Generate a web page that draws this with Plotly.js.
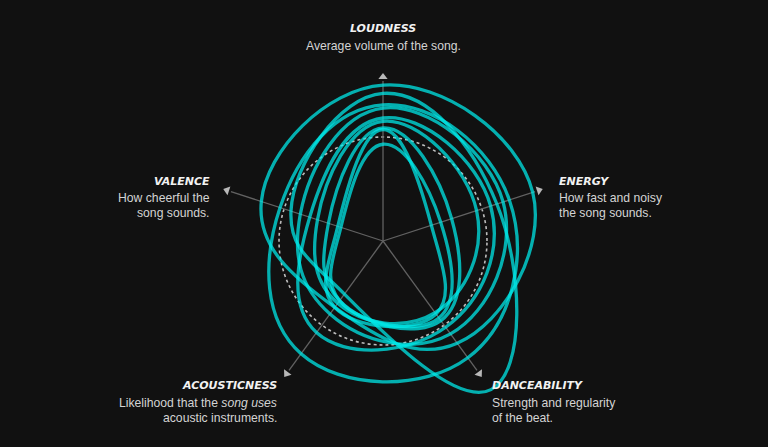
<!DOCTYPE html>
<html>
<head>
<meta charset="utf-8">
<script src="https://cdn.plot.ly/plotly-3.0.1.min.js"></script>
<style>
  html, body { margin: 0; padding: 0; background: #111111; }
  #chart { width: 768px; height: 447px; }
</style>
</head>
<body>
<div id="chart"></div>
<script>
// Five audio features, clockwise from the top.
const features = ['Loudness', 'Energy', 'Danceability', 'Acousticness', 'Valence'];

// One array per song, values in feature order (1 = end of the spoke).
const song1 = [0.95, 0.96, 0.77, 0.50, 0.78];
const song2 = [0.90, 0.73, 1.12, 0.40, 0.59];
const song3 = [0.83, 0.81, 0.88, 0.85, 0.66];
const song4 = [0.81, 0.77, 0.70, 0.55, 0.53];
const song5 = [0.75, 0.69, 0.65, 0.69, 0.47];
const song6 = [0.73, 0.60, 0.54, 0.47, 0.42];
const song7 = [0.69, 0.44, 0.60, 0.45, 0.35];
const song8 = [0.68, 0.31, 0.55, 0.50, 0.29];
const song9 = [0.59, 0.37, 0.58, 0.45, 0.27];
const songs = [song1, song2, song3, song4, song5, song6, song7, song8, song9];

// Average of the whole catalogue, drawn as the dashed ring.
const average = 0.634;

// Axis labels and their descriptions (one entry per printed line).
const labelTitles = ['LOUDNESS', 'ENERGY', 'DANCEABILITY', 'ACOUSTICNESS', 'VALENCE'];
const labelNotes = [
    ['Average volume of the song.'],
    ['How fast and noisy', 'the song sounds.'],
    ['Strength and regularity', 'of the beat.'],
    ['Likelihood that the <i>song uses</i>', 'acoustic instruments.'],
    ['How cheerful the', 'song sounds.'],
];

const W = 768, H = 447;
const px = (x) => x / W;
const py = (y) => 1 - y / H;

const traces = [];

// spokes, drawn as lines from the centre to the end of each axis
const spokeR = [], spokeT = [];
features.forEach((f) => { spokeR.push(0, 0.975, null); spokeT.push(f, f, null); });
traces.push({
    type: 'scatterpolar', mode: 'lines', r: spokeR, theta: spokeT,
    line: { color: '#626262', width: 1.3 }, connectgaps: false,
    hoverinfo: 'skip', showlegend: false,
});

// arrow heads at the spoke ends
traces.push({
    type: 'scatterpolar', mode: 'markers', r: features.map(() => 1.0), theta: features,
    marker: { symbol: 'triangle-up', size: 8, color: '#b8b8b8', angle: [0, 72, 144, 216, 288] },
    hoverinfo: 'skip', showlegend: false,
});

// one closed spline per song: repeat the first point so the curve closes smoothly
songs.forEach((s, i) => {
    traces.push({
        type: 'scatterpolar', mode: 'lines',
        r: [...s, s[0]], theta: [...features, features[0]],
        line: { color: 'rgba(0,232,232,0.74)', width: 3.3, shape: 'spline', smoothing: 1.3 },
        name: 'song ' + (i + 1), showlegend: false,
    });
});

// text labels round the chart
const titleFont = { family: 'DejaVu Sans', size: 11, color: '#f2f2f2', weight: 'bold', style: 'italic' };
const noteFont = { family: 'Liberation Sans', size: 12.2, color: '#d4d4d4' };
const labelPos = [
    { x: 383, ty: 28, ny: 46, anchor: 'center' },
    { x: 557, ty: 181, ny: 198, anchor: 'left' },
    { x: 490, ty: 385, ny: 403, anchor: 'left' },
    { x: 279, ty: 385, ny: 403, anchor: 'right' },
    { x: 212, ty: 181, ny: 198, anchor: 'right' },
];
const lineGap = 14.5;
const annotations = [];
labelPos.forEach((p, i) => {
    annotations.push({
        xref: 'paper', yref: 'paper', x: px(p.x), y: py(p.ty), xanchor: p.anchor, yanchor: 'middle',
        text: labelTitles[i], showarrow: false, font: titleFont,
    });
    labelNotes[i].forEach((line, j) => {
        annotations.push({
            xref: 'paper', yref: 'paper', x: px(p.x), y: py(p.ny + j * lineGap), xanchor: p.anchor, yanchor: 'middle',
            text: line, showarrow: false, font: noteFont,
        });
    });
});

const rMax = 1.2, cx = 383, cy = 241, rPx = 164 * rMax;
const layout = {
    width: W, height: H,
    paper_bgcolor: '#111111', plot_bgcolor: '#111111',
    margin: { l: 0, r: 0, t: 0, b: 0 },
    showlegend: false,
    polar: {
        domain: { x: [px(cx - rPx), px(cx + rPx)], y: [py(cy + rPx), py(cy - rPx)] },
        bgcolor: 'rgba(0,0,0,0)',
        radialaxis: {
            range: [0, rMax], tickvals: [average], showticklabels: false, ticks: '',
            showline: false, gridcolor: '#bdbdbd', gridwidth: 1.6, griddash: 'dot',
        },
        angularaxis: {
            direction: 'clockwise', rotation: 90, showgrid: false, showline: false,
            showticklabels: false, ticks: '',
        },
    },
    annotations,
};

Plotly.newPlot('chart', traces, layout, { displayModeBar: false, staticPlot: true });
</script>
</body>
</html>
